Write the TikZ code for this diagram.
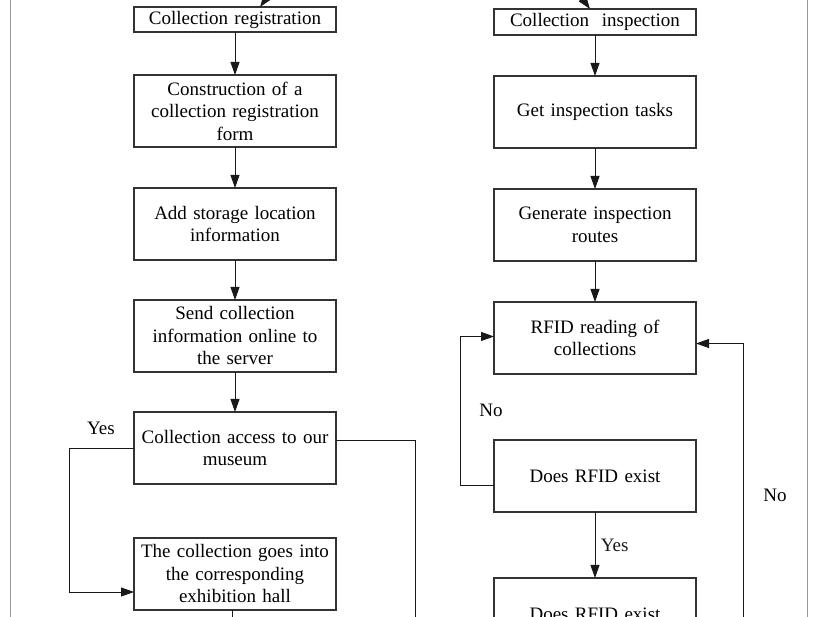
\documentclass[tikz,border=0pt]{standalone}
\usepackage{fontspec}
\setmainfont{Liberation Serif}
\usetikzlibrary{arrows.meta, positioning}

\begin{document}
\begin{tikzpicture}[x=1pt, y=-1pt, node distance=40pt]
    % Define styles
    \tikzstyle{stepbox}=[draw=black!80, line width=1.1pt, rectangle, minimum width=202pt, minimum height=72pt, text width=192pt, align=center, inner sep=0pt, outer sep=0pt, font=\fontsize{19}{22.5}\selectfont]
    \tikzstyle{flow}=[line width=0.9pt, black!90, -{Triangle[length=13pt, width=9pt]}]
    \tikzstyle{wire}=[line width=0.9pt, black!90]
    \tikzstyle{lbl}=[font=\fontsize{19}{22.5}\selectfont]

    \useasboundingbox (0,0) rectangle (823,617);
    \clip (0,0) rectangle (823,617);

    % Outer frame
    \draw[gray!80, line width=1pt] (10,-20) rectangle (807,640);

    % Left column - registration
    \node[stepbox, minimum height=25pt] (L1) at (235,19.5) {Collection registration};
    \node[stepbox, below=43pt of L1] (L2) {Construction of a\\collection registration\\form};
    \node[stepbox, below=41pt of L2] (L3) {Add storage location\\information};
    \node[stepbox, below=40pt of L3] (L4) {Send collection\\information online to\\the server};
    \node[stepbox, below=40pt of L4] (L5) {Collection access to our\\museum};
    \node[stepbox, below=54pt of L5] (L6) {The collection goes into\\the corresponding\\exhibition hall};

    % Right column - inspection
    \node[stepbox, minimum height=26pt] (R1) at (595,22) {Collection\ \ inspection};
    \node[stepbox, below=41pt of R1] (R2) {Get inspection tasks};
    \node[stepbox, below=41pt of R2] (R3) {Generate inspection\\routes};
    \node[stepbox, below=41pt of R3] (R4) {RFID reading of\\collections};
    \node[stepbox, below=66pt of R4] (R5) {Does RFID exist};
    \node[stepbox, below=66pt of R5] (R6) {Does RFID exist};

    % Straight arrows down the columns
    \foreach \a/\b in {L1/L2, L2/L3, L3/L4, L4/L5, R1/R2, R2/R3, R3/R4} {
        \draw[flow] (\a) -- (\b);
    }
    \draw[flow] (R5) -- (R6) node[midway, right=2pt, lbl] (yesR) {Yes};

    % Incoming arrows from above (cut off)
    \coordinate (srcL) at (291,-25);
    \coordinate (srcR) at (559,-23);
    \draw[flow] (srcL) to[bend right=8] ([xshift=25pt]L1.north);
    \draw[flow] (srcR) to[bend left=8] ([xshift=-5pt]R1.north);

    % Left side loops
    \draw[flow] (L5.west) -- ++(-65,0) |- ([yshift=-18pt]L6.west);
    \node[lbl] (yesL) at (101,428) {Yes};
    \coordinate (outR) at (415,640);
    \draw[wire] ([yshift=8pt]L5.east) -| (outR);
    \coordinate (outL) at (232,640);
    \draw[wire] (L6.south -| outL) -- (outL);

    % Right side loops
    \draw[flow] ([yshift=-9pt]R5.west) -- ++(-34,0) |- ([yshift=1.5pt]R4.west);
    \node[lbl] (noL) at (491,410) {No};
    \coordinate (inR) at (743,640);
    \draw[flow] (inR) |- ([yshift=-5.5pt]R4.east);
    \node[lbl] (noR) at (775,495) {No};
\end{tikzpicture}
\end{document}
